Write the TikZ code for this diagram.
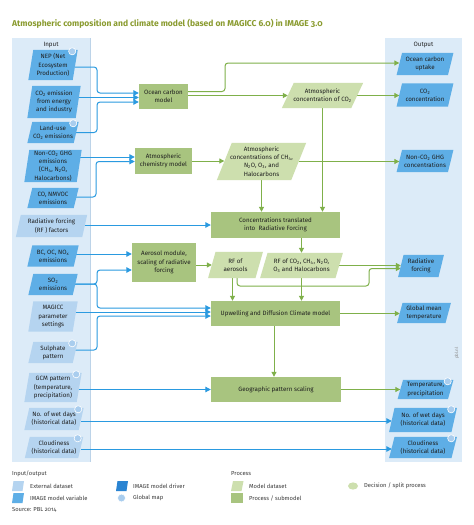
\documentclass[tikz,border=0pt]{standalone}
\usepackage{fontspec}
\setmainfont{Fira Sans}[Numbers=OldStyle]
\newfontfamily\linfont{Fira Sans}[Numbers=Lining]
\usetikzlibrary{arrows.meta}
\pgfdeclarelayer{panel}\pgfdeclarelayer{lines}\pgfdeclarelayer{shape}
\pgfsetlayers{panel,lines,shape,main}
\definecolor{panelbg}{HTML}{DCEBF8}
\definecolor{paneledge}{HTML}{BCD3E8}
\definecolor{midblue}{HTML}{5EAEE6}
\definecolor{lightblue}{HTML}{B5D4F0}
\definecolor{darkblue}{HTML}{2A84D2}
\definecolor{globefill}{HTML}{A9CDEE}
\definecolor{procgreen}{HTML}{A8C47F}
\definecolor{datagreen}{HTML}{CDDFAE}
\definecolor{linegreen}{HTML}{7FB04A}
\definecolor{lineblue}{HTML}{2A9AE0}
\definecolor{titlecol}{HTML}{8A9B2F}
\definecolor{txt}{HTML}{1E1E1E}
\definecolor{legtxt}{HTML}{3A3A3A}
\newcommand{\nfont}{\fontsize{6.2}{8.2}\selectfont}
\newcommand{\lfont}{\fontsize{5.8}{7}\selectfont}
\newcommand{\sbs}[1]{\textsubscript{\linfont #1}}
\tikzset{
  ntext/.style={inner sep=0pt, align=center, font=\nfont, text=txt},
  proc/.style={ntext, rectangle, fill=procgreen},
  bl/.style={draw=lineblue, line width=1pt, rounded corners=3pt, -{Triangle[length=5.5pt,width=5.5pt]}},
  gr/.style={draw=linegreen, line width=1pt, rounded corners=3pt, -{Triangle[length=5pt,width=5pt]}},
  globeic/.style={fill=globefill, draw=white, line width=0.6pt},
  legtext/.style={anchor=west, inner sep=0pt, font=\lfont, text=legtxt}
}
\newcommand{\paranode}[7]{%
  \node[ntext, minimum width=#4, minimum height=#5] (#2) at #3 {#7};
  \begin{pgfonlayer}{shape}
    \fill[#1] ([xshift=#6]#2.north west) -- ([xshift=#6]#2.north east) -- ([xshift=-#6]#2.south east) -- ([xshift=-#6]#2.south west) -- cycle;
  \end{pgfonlayer}}
\newcommand{\globeicon}[1]{\filldraw[globeic] ([xshift=-3pt,yshift=-1.5pt]#1.north east) circle[radius=3.6pt];}
\begin{document}
\begin{tikzpicture}[x=1pt,y=-1pt]
\useasboundingbox (0,0) rectangle (474,525);
\begin{pgfonlayer}{panel}
  \fill[white] (0,0) rectangle (474,525);
  \fill[panelbg] (12,38) rectangle (90,462);
  \draw[paneledge, line width=0.6pt] (90,38) -- (90,462);
  \fill[panelbg] (385,38) rectangle (462,462);
\end{pgfonlayer}
\node[anchor=base west, inner sep=0pt, font=\fontsize{8.5}{10}\selectfont\bfseries, text=titlecol] (title) at (12,26) {Atmospheric composition and climate model (based on MAGICC 6.0) in IMAGE 3.0};
\node[ntext] (inhead) at (51,45) {Input};
\node[ntext] (outhead) at (423.5,45) {Output};
% input nodes
\paranode{midblue}{nep}{(53,65)}{44pt}{30pt}{2.5pt}{NEP (Net\\Ecosystem\\Production)}
\paranode{midblue}{co2e}{(54,102)}{48pt}{32pt}{2.5pt}{CO\sbs{2} emission\\from energy\\and industry}
\paranode{midblue}{luc}{(53,132.5)}{46pt}{21pt}{2.5pt}{Land-use\\CO\sbs{2} emissions}
\paranode{midblue}{nonco2}{(53,166)}{52pt}{32pt}{2.5pt}{Non-CO\sbs{2} GHG\\emissions\\(CH\sbs{4}, N\sbs{2}O,\\Halocarbons)}
\paranode{midblue}{co}{(53,198)}{46pt}{20pt}{2.5pt}{CO, NMVOC\\emissions}
\paranode{lightblue}{rff}{(51.5,226)}{66pt}{22pt}{2.5pt}{Radiative forcing\\(RF ) factors}
\paranode{midblue}{bc}{(53,256)}{46pt}{21pt}{2.5pt}{BC, OC, NO\sbs{x}\\emissions}
\paranode{midblue}{so2}{(53,284.5)}{44pt}{21pt}{2.5pt}{SO\sbs{2}\\emissions}
\paranode{lightblue}{magicc}{(53,316.5)}{44pt}{30pt}{2.5pt}{MAGICC\\parameter\\settings}
\paranode{lightblue}{sulph}{(53,352.5)}{44pt}{21pt}{2.5pt}{Sulphate\\pattern}
\paranode{lightblue}{gcm}{(53,387.5)}{52pt}{29pt}{2.5pt}{GCM pattern\\(temperature,\\precipitation)}
\paranode{lightblue}{wet}{(54,419)}{54pt}{22pt}{2.5pt}{No. of wet days\\(historical data)}
\paranode{lightblue}{cloud}{(54,447.5)}{53pt}{21pt}{2.5pt}{Cloudiness\\(historical data)}
\globeicon{nep}\globeicon{luc}\globeicon{sulph}\globeicon{gcm}\globeicon{wet}\globeicon{cloud}
% process nodes
\node[proc, minimum width=49pt, minimum height=25pt] (ocean) at (163.5,96) {Ocean carbon\\model};
\node[proc, minimum width=57pt, minimum height=26pt] (atmchem) at (163.5,161) {Atmospheric\\chemistry model};
\node[proc, minimum width=129pt, minimum height=26pt] (conc) at (275.5,225) {Concentrations translated\\into\ \ Radiative Forcing};
\node[proc, minimum width=64pt, minimum height=39pt] (aerosol) at (164,262.5) {Aerosol module,\\scaling of radiative\\forcing};
\node[proc, minimum width=129pt, minimum height=25pt] (upw) at (275.5,313.5) {Upwelling and Diffusion Climate model};
\node[proc, minimum width=130pt, minimum height=25pt] (geo) at (276,389.5) {Geographic pattern scaling};
% model datasets
\paranode{datagreen}{atmco2}{(322.5,95.5)}{69pt}{25pt}{6pt}{Atmospheric\\concentration of CO\sbs{2}}
\paranode{datagreen}{atmch4}{(261.5,161.5)}{74pt}{37pt}{7.5pt}{Atmospheric\\concentrations of CH\sbs{4},\\N\sbs{2}O, O\sbs{3}, and\\Halocarbons}
\paranode{datagreen}{rfaer}{(235.5,265)}{47pt}{26pt}{3.75pt}{RF of\\aerosols}
\paranode{datagreen}{rfco2}{(301.5,265.5)}{75pt}{25pt}{3.75pt}{RF of CO\sbs{2}, CH\sbs{4}, N\sbs{2}O,\\O\sbs{3} and Halocarbons}
% outputs
\paranode{midblue}{ocup}{(425,64)}{51pt}{22pt}{2.75pt}{Ocean carbon\\uptake}
\paranode{midblue}{co2c}{(425,95)}{51pt}{23pt}{2.75pt}{CO\sbs{2}\\concentration}
\paranode{midblue}{nonco2c}{(425,161)}{51pt}{22pt}{2.75pt}{Non-CO\sbs{2} GHG\\concentrations}
\paranode{midblue}{rfout}{(421,266)}{40pt}{22pt}{2.75pt}{Radiative\\forcing}
\paranode{midblue}{gmt}{(424,313)}{48pt}{20pt}{2.75pt}{Global mean\\temperature}
\paranode{midblue}{tp}{(425.5,389.5)}{50pt}{19pt}{2.75pt}{Temperature,\\precipitation}
\paranode{midblue}{wetout}{(423,420)}{62pt}{24pt}{2.75pt}{No. of wet days\\(historical data)}
\paranode{midblue}{cloudout}{(423,447.5)}{62pt}{21pt}{2.75pt}{Cloudiness\\(historical data)}
\globeicon{tp}\globeicon{wetout}\globeicon{cloudout}
\node[rotate=90, inner sep=0pt, font=\fontsize{4.5}{5}\selectfont, text=black!45] (pbl) at (457,353) {pbl.nl};
% connectors
\begin{pgfonlayer}{lines}
  \draw[bl] ([yshift=-2pt]nep.east) -- (97,67) -- (97,93) -- (ocean.west |- 0,93);
  \draw[bl] (co2e.east |- 0,97.5) -- (ocean.west |- 0,97.5);
  \draw[bl] (luc.east) -- (97,132.5) -- (97,102) -- (ocean.west |- 0,102);
  \draw[bl] (nonco2.east |- 0,157) -- (atmchem.west |- 0,157);
  \draw[bl] (co.east |- 0,197) -- (96,197) -- (96,161.5) -- (atmchem.west |- 0,161.5);
  \draw[bl] (rff.east |- conc.west) -- (conc.west);
  \draw[bl] (bc.east |- 0,254) -- (aerosol.west |- 0,254);
  \draw[bl] (so2.east |- 0,284) -- (97,284) -- (97,270) -- (aerosol.west |- 0,270);
  \draw[bl] (so2.east |- 0,284) -- (97,284) -- (97,308) -- (upw.west |- 0,308);
  \draw[bl] (magicc.east |- 0,312) -- (upw.west |- 0,312);
  \draw[bl] (sulph.east |- 0,350) -- (97,350) -- (97,316) -- (upw.west |- 0,316);
  \draw[bl] (gcm.east |- geo.west) -- (geo.west);
  \draw[bl] (wet.east |- 0,421) -- (wetout.west |- 0,421);
  \draw[bl] (cloud.east |- 0,449) -- (cloudout.west |- 0,449);
  \draw[gr] (ocean.east |- 0,91.5) -- (225,91.5) -- (225,63) -- (ocup.west |- 0,63);
  \draw[gr] (ocean.east |- 0,95.5) -- (atmco2.west);
  \draw[gr] (atmco2.east) -- (co2c.west |- atmco2.east);
  \draw[gr] (atmco2.south) -- (conc.north -| atmco2.south);
  \draw[gr] (atmchem.east) -- (atmch4.west |- atmchem.east);
  \draw[gr] (atmch4.east) -- (nonco2c.west |- atmch4.east);
  \draw[gr] (atmch4.south) -- (conc.north -| atmch4.south);
  \draw[gr] (conc.south -| rfco2.north) -- (rfco2.north);
  \draw[gr] (aerosol.east |- rfaer.west) -- (rfaer.west);
  \draw[gr] ([xshift=-3pt]rfaer.south) -- (upw.north -| 232.5,0);
  \draw[gr] ([xshift=1.5pt]rfaer.south) -- (237,286) -- (369,286) -- (369,268.5) -- (rfout.west |- 0,268.5);
  \draw[gr] (rfco2.east |- 0,265.5) -- (rfout.west |- 0,265.5);
  \draw[gr] (rfco2.south) -- (upw.north -| rfco2.south);
  \draw[gr] (upw.east) -- (gmt.west |- upw.east);
  \draw[gr] (upw.south -| 274,0) -- (geo.north -| 274,0);
  \draw[gr] (geo.east) -- (tp.west |- geo.east);
\end{pgfonlayer}
% legend
\node[legtext] (lio) at (12,474) {Input/output};
\fill[lightblue] (13.5,481) -- (24,481) -- (22.5,491) -- (12,491) -- cycle;
\node[legtext] (lext) at (30,486) {External dataset};
\fill[midblue] (13.5,493) -- (24,493) -- (22.5,503) -- (12,503) -- cycle;
\node[legtext] (lvar) at (30,498) {IMAGE model variable};
\fill[darkblue] (117.5,481) -- (128,481) -- (126.5,491) -- (116,491) -- cycle;
\node[legtext] (ldrv) at (133,486) {IMAGE model driver};
\filldraw[globeic] (121.5,498) circle[radius=4pt];
\node[legtext] (lmap) at (133,498) {Global map};
\node[legtext] (lproc) at (231,474) {Process};
\fill[datagreen] (233,481) -- (243.5,481) -- (241.5,491) -- (231,491) -- cycle;
\node[legtext] (lmd) at (249,486) {Model dataset};
\fill[procgreen] (231,493) rectangle (243,503);
\node[legtext] (lps) at (249,498) {Process / submodel};
\fill[datagreen] (353,486) ellipse[x radius=5pt, y radius=3.6pt];
\node[legtext] (ldec) at (364,486) {Decision / split process};
\node[legtext] (lsrc) at (12,510) {Source: PBL 2014};
\end{tikzpicture}
\end{document}
